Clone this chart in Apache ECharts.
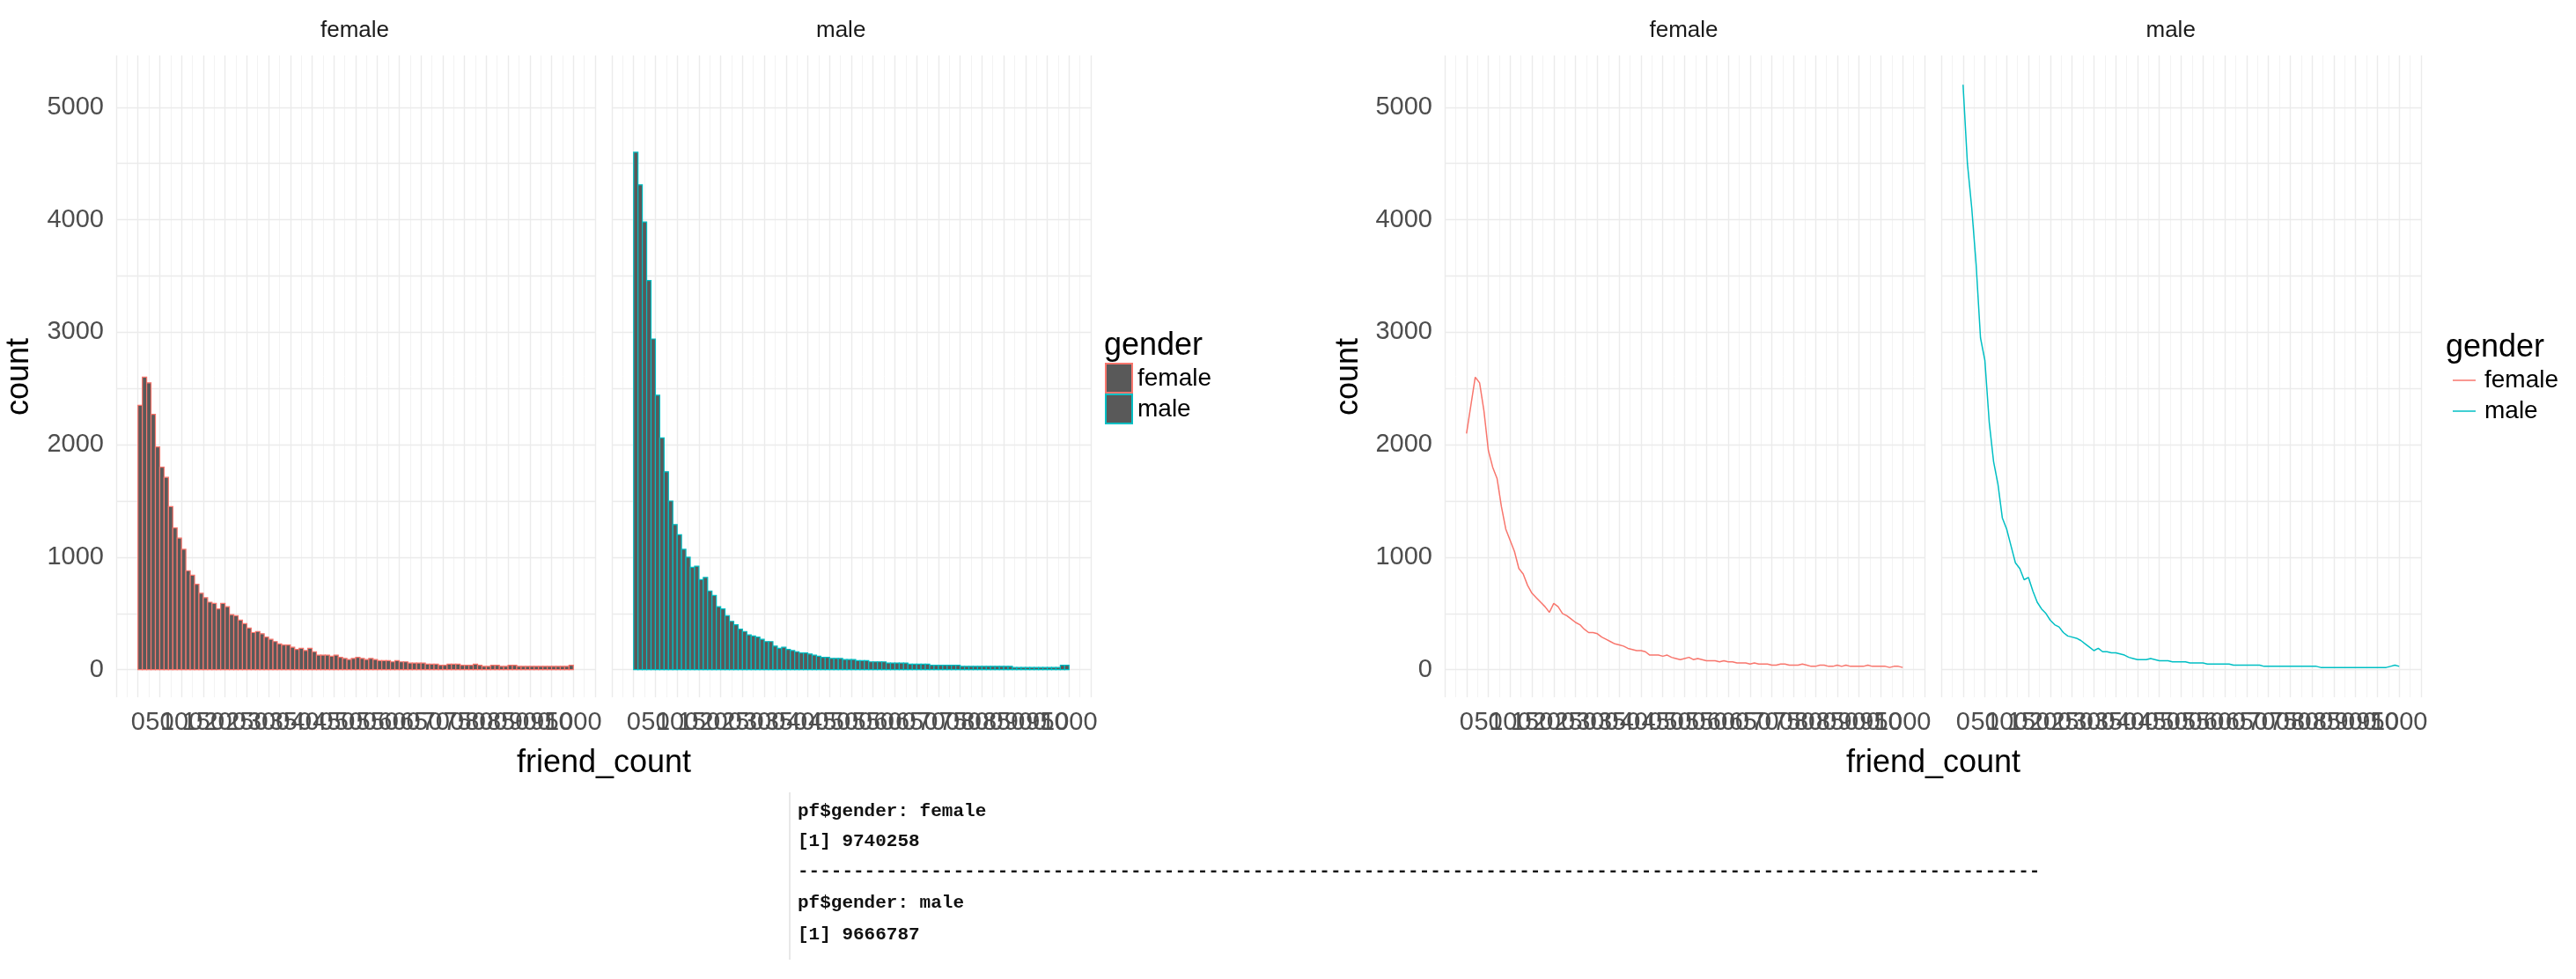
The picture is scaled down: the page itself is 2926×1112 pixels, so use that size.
<!DOCTYPE html>
<html>
<head>
<meta charset="utf-8">
<script src="https://cdn.jsdelivr.net/npm/echarts@6/dist/echarts.min.js"></script>
<style>html,body{margin:0;background:#fff}#chart{width:2926px;height:1112px}</style>
</head>
<body>
<div id="chart"></div>
<script>
// histogram counts, bins of 10 friends from 0 to 1000
var femaleHist = [2350,2600,2550,2270,1980,1800,1710,1450,1260,1170,1070,880,840,760,680,640,600,590,540,590,
  560,490,480,440,410,370,330,340,320,290,270,250,230,220,220,200,180,190,170,190,
  160,130,130,130,120,130,110,100,90,100,110,100,90,100,90,80,80,80,70,80,
  70,70,60,60,60,60,50,50,50,40,40,50,50,50,40,40,40,50,40,30,
  30,40,40,30,30,40,40,30,30,30,30,30,30,30,30,30,30,30,30,40];
var maleHist = [4600,4310,3980,3460,2940,2440,2060,1760,1500,1290,1200,1070,1000,910,920,800,820,700,660,560,
  540,480,430,400,360,340,310,300,290,270,250,250,210,190,200,180,170,160,150,150,
  140,130,120,110,110,100,100,100,90,90,90,80,80,80,70,70,70,70,60,60,
  60,60,60,50,50,50,50,50,40,40,40,40,40,40,40,30,30,30,30,30,
  30,30,30,30,30,30,30,20,20,20,20,20,20,20,20,20,20,20,40,40];
// frequency polygon points at friend_count 0,10,...,1000
var femaleLine = [2100,2350,2600,2550,2300,1950,1800,1700,1450,1250,1150,1050,900,850,750,680,640,600,560,510,
  590,560,500,480,450,420,400,360,330,330,320,290,270,250,230,220,210,190,180,170,
  170,160,130,130,130,120,130,110,100,90,100,110,90,100,90,80,80,80,70,80,
  70,70,60,60,60,50,60,50,50,50,40,40,50,50,40,40,40,50,40,30,
  30,40,40,30,30,40,30,40,30,30,30,30,40,30,30,30,30,20,30,30,20];
var maleLine = [5200,4500,4100,3600,2950,2750,2200,1850,1650,1350,1250,1100,950,900,800,820,700,600,540,500,
  440,400,380,330,300,290,280,260,230,200,170,190,160,160,150,150,140,130,110,100,
  90,90,90,100,90,80,80,80,70,70,70,70,60,60,60,60,50,50,50,50,
  50,50,40,40,40,40,40,40,40,30,30,30,30,30,30,30,30,30,30,30,
  30,30,20,20,20,20,20,20,20,20,20,20,20,20,20,20,20,20,30,40,30];
var genders = ['female', 'male'];
var yTicks = [0, 1000, 2000, 3000, 4000, 5000];
var yGridValues = [0, 500, 1000, 1500, 2000, 2500, 3000, 3500, 4000, 4500, 5000];
var binWidth = 10;

var colors = {female: '#F8766D', male: '#00BFC4'};
var font = 'Liberation Sans';
var gridCol = '#EBEBEB';

var panels = [
  {left: 132, width: 544, g: 'female', kind: 'bar', data: femaleHist},
  {left: 695, width: 544, g: 'male', kind: 'bar', data: maleHist},
  {left: 1641, width: 545, g: 'female', kind: 'line', data: femaleLine},
  {left: 2205, width: 545, g: 'male', kind: 'line', data: maleLine}
];

var grids = [], xAxes = [], yAxes = [], series = [];
panels.forEach(function (p, i) {
  grids.push({left: p.left, width: p.width, top: 63, height: 729, containLabel: false});
  xAxes.push({
    type: 'value', gridIndex: i, min: -50, max: 1050, interval: 50,
    axisLine: {show: false}, axisTick: {show: false},
    axisLabel: {
      fontFamily: font, fontSize: 29, color: '#4D4D4D', margin: 14,
      formatter: function (v) { return (v < 0 || v > 1000) ? '' : String(v); }
    },
    splitLine: {show: true, lineStyle: {color: gridCol, width: 1.4}},
    minorTick: {show: false, splitNumber: 2},
    minorSplitLine: {show: true, lineStyle: {color: '#F3F3F3', width: 1}}
  });
  yAxes.push({
    type: 'value', gridIndex: i, min: -245, max: 5460,
    axisLine: {show: false}, axisTick: {show: false},
    axisLabel: {
      show: i === 0 || i === 2, customValues: yTicks,
      formatter: function (v) { return String(v); },
      fontFamily: font, fontSize: 29, color: '#4D4D4D', margin: 14
    },
    splitLine: {show: false}
  });
  series.push({
    type: 'line', xAxisIndex: i, yAxisIndex: i, data: [], silent: true, z: 0,
    markLine: {
      symbol: 'none', silent: true, label: {show: false}, animation: false, z: 0,
      lineStyle: {type: 'solid', color: gridCol, width: 1.4},
      data: yGridValues.map(function (v) { return {yAxis: v}; })
    }
  });
  if (p.kind === 'bar') {
    series.push({
      type: 'custom', xAxisIndex: i, yAxisIndex: i, z: 5,
      data: p.data.map(function (c, k) { return [k * binWidth, c]; }),
      renderItem: function (params, api) {
        var a = api.coord([api.value(0), api.value(1)]);
        var b = api.coord([api.value(0) + binWidth, 0]);
        return {
          type: 'rect',
          shape: {x: a[0], y: a[1], width: b[0] - a[0], height: b[1] - a[1]},
          style: {fill: '#595959', stroke: colors[p.g], lineWidth: 1.2}
        };
      }
    });
  } else {
    series.push({
      type: 'line', xAxisIndex: i, yAxisIndex: i, showSymbol: false, z: 5,
      data: p.data.map(function (c, k) { return [k * binWidth, c]; }),
      lineStyle: {color: colors[p.g], width: 1.5}
    });
  }
});

var graphic = [];
panels.forEach(function (p) {
  graphic.push({type: 'text', left: p.left + p.width / 2 - 40, top: 22,
    style: {text: p.g, font: '26px ' + font, fill: '#1A1A1A', width: 80, align: 'center'}});
});
[[686, 'friend_count'], [2196, 'friend_count']].forEach(function (t) {
  graphic.push({type: 'text', x: t[0], y: 867,
    style: {text: t[1], font: '36px ' + font, fill: '#000', align: 'center', verticalAlign: 'middle'}});
});
[[22, 428], [1532, 428]].forEach(function (t) {
  graphic.push({type: 'text', x: t[0], y: t[1], rotation: Math.PI / 2,
    style: {text: 'count', font: '36px ' + font, fill: '#000', align: 'center', verticalAlign: 'middle'}});
});
// legends
graphic.push({type: 'text', x: 1254, y: 393, style: {text: 'gender', font: '36px ' + font, fill: '#000', verticalAlign: 'middle'}});
graphic.push({type: 'text', x: 2778, y: 395, style: {text: 'gender', font: '36px ' + font, fill: '#000', verticalAlign: 'middle'}});
genders.forEach(function (g, k) {
  var y = 430 + k * 35;
  graphic.push({type: 'rect', shape: {x: 1256, y: y - 17, width: 30, height: 33},
    style: {fill: '#595959', stroke: colors[g], lineWidth: 2}});
  graphic.push({type: 'text', x: 1292, y: y, style: {text: g, font: '28px ' + font, fill: '#000', verticalAlign: 'middle'}});
  var y2 = 432 + k * 35;
  graphic.push({type: 'line', shape: {x1: 2786, y1: y2, x2: 2812, y2: y2},
    style: {stroke: colors[g], lineWidth: 1.5}});
  graphic.push({type: 'text', x: 2822, y: y2, style: {text: g, font: '28px ' + font, fill: '#000', verticalAlign: 'middle'}});
});
// console output
var consoleLines = [
  [922, 'pf$gender: female'],
  [956, '[1] 9740258'],
  [990, new Array(113).join('-')],
  [1026, 'pf$gender: male'],
  [1062, '[1] 9666787']
];
graphic.push({type: 'line', shape: {x1: 897, y1: 900, x2: 897, y2: 1090}, style: {stroke: '#D0D0D0', lineWidth: 1}});
consoleLines.forEach(function (l) {
  graphic.push({type: 'text', x: 906, y: l[0],
    style: {text: l[1], font: 'bold 21px "Liberation Mono"', fill: '#111', verticalAlign: 'middle'}});
});

var myChart = echarts.init(document.getElementById('chart'));
myChart.setOption({
  animation: false,
  grid: grids, xAxis: xAxes, yAxis: yAxes, series: series, graphic: graphic
});
</script>
</body>
</html>
